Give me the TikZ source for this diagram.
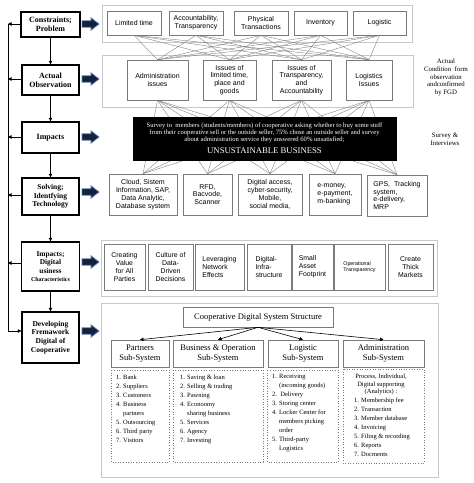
\documentclass[tikz,border=0pt]{standalone}
\usepackage{fontspec}
\setmainfont{Liberation Serif}
\newfontfamily\arialf{Liberation Sans}
\usetikzlibrary{arrows.meta,calc}
\definecolor{navyfill}{HTML}{14213D}
\definecolor{arrowedge}{HTML}{5B7DB1}
\definecolor{panelgray}{HTML}{C8C8C8}
\definecolor{boxgray}{HTML}{7A7A7A}
\definecolor{linegray}{HTML}{7A7A7A}
\newcommand{\fsz}[2]{\fontsize{#1}{#2}\selectfont}
\begin{document}
\begin{tikzpicture}[x=1pt,y=-1pt,
  panel/.style={draw=panelgray, line width=0.6pt, fill=white},
  rbox/.style={draw=boxgray, line width=0.6pt, fill=white, inner sep=1pt, align=center, font=\arialf\fsz{7}{7.8}},
  lbox/.style={draw=black, line width=1.4pt, fill=white, inner sep=1pt, align=center, font=\bfseries\fsz{8}{9.3}},
  hbox/.style={draw=boxgray, line width=0.6pt, fill=white, inner sep=1pt, align=center, font=\fsz{8.5}{10}},
  lstbox/.style={draw=boxgray, dotted, line width=0.6pt},
  lsttext/.style={inner sep=0pt, align=left, font=\fsz{6.5}{9}},
  note/.style={inner sep=0pt, align=center, font=\fsz{6.8}{7.8}},
  cross/.style={draw=linegray, line width=0.35pt},
  fb/.style={draw=black, line width=0.6pt, -{Triangle[length=3.5pt,width=3.5pt]}},
  bigarrow/.pic={\filldraw[fill=navyfill, draw=arrowedge, line width=0.7pt]
     (-8.5,-3.2) -- (0.5,-3.2) -- (0.5,-6.2) -- (8.5,0) -- (0.5,6.2) -- (0.5,3.2) -- (-8.5,3.2) -- cycle;}
]
\useasboundingbox (0,0) rectangle (474,483);
\fill[white] (0,0) rectangle (474,483);

% panels
\draw[panel] (102,5) rectangle (412,42);
\draw[panel] (102,55) rectangle (413,107);
\draw[panel] (101,240) rectangle (437,296);
\draw[panel] (101,303) rectangle (438,477);

% left column
\node[lbox, minimum width=59, minimum height=25] (L1) at (50.5,24.5) {Constraints;\\Problem};
\node[lbox, minimum width=57, minimum height=30] (L2) at (50.5,80) {Actual\\Observation};
\node[lbox, minimum width=57, minimum height=31] (L3) at (50.5,137.5) {Impacts};
\node[lbox, minimum width=57, minimum height=37, font=\bfseries\fsz{7.5}{8.3}] (L4) at (50.5,196.5) {Solving;\\Identfying\\Technology};
\node[lbox, minimum width=58, minimum height=49, font=\bfseries\fsz{7.4}{8.3}] (L5) at (50.5,266.5) {Impacts;\\Digital\\usiness\\{\fsz{6}{7}Characteristics}};
\node[lbox, minimum width=57, minimum height=51, font=\bfseries\fsz{7.5}{8.7}] (L6) at (50.5,337.5) {Developing\\Fremawork\\Digital of\\Cooperative};

\draw[fb] (L1.south) -- (L1.south |- L2.north);
\draw[fb] (L2.south) -- (L2.south |- L3.north);
\draw[fb] (L3.south) -- (L3.south |- L4.north);
\draw[fb] (L4.south) -- (L4.south |- L5.north);
\draw[fb] (L5.south) -- (L5.south |- L6.north);

% feedback line
\coordinate (f1) at (8,24);
\coordinate (f2) at (8,79);
\coordinate (f3) at (8,137);
\coordinate (f4) at (8,195);
\coordinate (f5) at (8,263);
\coordinate (f6) at (8,331);
\draw[line width=0.6pt] (f1) -- (f6);
\draw[fb] (f1 -| L1.west) -- (f1);
\draw[fb] (f2 -| L2.west) -- (f2);
\draw[fb] (f3 -| L3.west) -- (f3);
\draw[fb] (f4 -| L4.west) -- (f4);
\draw[fb] (f5 -| L5.west) -- (f5);
\draw[fb] (f6) -- (f6 -| L6.west);

% big arrows
\pic at (90.5,24) {bigarrow};
\pic at (90.5,79) {bigarrow};
\pic at (90.5,137) {bigarrow};
\pic at (90.5,192) {bigarrow};
\pic at (90.5,262) {bigarrow};
\pic at (90.5,331) {bigarrow};

% row 1
\node[rbox, minimum width=54, minimum height=24] (c1) at (134,23) {Limited time};
\node[rbox, minimum width=54, minimum height=24] (c2) at (196,23) {Accountability,\\Transparency};
\node[rbox, minimum width=54, minimum height=24] (c3) at (261,23) {Physical\\Transactions};
\node[rbox, minimum width=53, minimum height=24] (c4) at (320.5,23) {Inventory};
\node[rbox, minimum width=53, minimum height=24] (c5) at (379.5,23) {Logistic};

% row 2
\node[rbox, minimum width=61, minimum height=40] (o1) at (157.5,80) {Administration\\issues};
\node[rbox, minimum width=53, minimum height=40] (o2) at (229.5,80) {Issues of\\limited time,\\place and\\goods};
\node[rbox, minimum width=59, minimum height=40] (o3) at (301.5,80) {Issues of\\Transparency,\\and\\Accountability};
\node[rbox, minimum width=46, minimum height=40] (o4) at (369,80) {Logistics\\Issues};

% row 4
\node[rbox, minimum width=68, minimum height=41] (s1) at (143,194.5) {Cloud, Sistem\\Information, SAP,\\Data Analytic,\\Database system};
\node[rbox, minimum width=49, minimum height=41] (s2) at (207.5,194.5) {RFD,\\Bacvode,\\Scanner};
\node[rbox, minimum width=64, minimum height=41] (s3) at (270,194.5) {Digital access,\\cyber-security,\\Mobile,\\social media,};
\node[rbox, minimum width=52, minimum height=41, align=left] (s4) at (335,194.5) {e-money,\\e-payment,\\m-banking};
\node[rbox, minimum width=60, minimum height=41, align=left] (s5) at (397,195.5) {GPS,\ \ Tracking\\system,\\e-delivery,\\MRP};

% cross lines row1 -> row2
\foreach \a in {c1,c2,c3,c4,c5}{
  \foreach \b in {o1,o2,o3,o4}{
    \draw[cross] (\a.south) -- (\b.north);
  }
}
% cross lines row2 -> row4 (behind black box)
\foreach \a in {o1,o2,o3,o4}{
  \foreach \b in {s1,s2,s3,s4,s5}{
    \draw[cross] (\a.south) -- (\b.north);
  }
}

% black box
\node[draw=black, fill=black, minimum width=263, minimum height=43, inner sep=0pt] (bb) at (264.5,138.5) {};
\node[text=white, inner sep=0pt, align=center, font=\fsz{6.6}{7}] (bbt) at (264.5,133) {Survey to\ \ members (students/members) of cooperative asking whether to buy some stuff\\from their cooperative sell or the outside seller, 75\% chose an outside seller and survey\\about administration service they answered 60\% unsatisfied;};
\node[text=white, inner sep=0pt, font=\fsz{8.7}{9}] (bbu) at (264.5,151) {UNSUSTAINABLE BUSINESS};

% notes
\node[note] (n1) at (446,77.5) {Actual\\Condition\ \ form\\observation\\andconfirmed\\by FGD};
\node[note] (n2) at (445,139.5) {Survey \&\\Interviews};

% row 5
\node[rbox, minimum width=41, minimum height=46, font=\arialf\fsz{6.9}{8}] (d1) at (124.5,267) {Creating\\Value\\for All\\Parties};
\node[rbox, minimum width=45, minimum height=46, font=\arialf\fsz{6.9}{8}] (d2) at (170.5,267) {Culture of\\Data-\\Driven\\Decisions};
\node[rbox, minimum width=49, minimum height=46, font=\arialf\fsz{6.9}{8}, align=left] (d3) at (219.5,267) {Leveraging\\Network\\Effects};
\node[rbox, minimum width=44, minimum height=46, font=\arialf\fsz{6.9}{8}, align=left] (d4) at (269,267) {Digital-\\Infra-\\structure};
\node[rbox, minimum width=41, minimum height=46, font=\arialf\fsz{6.9}{8}, align=left] (d5) at (312.5,267) {Small\\Asset\\Footprint};
\node[rbox, minimum width=51, minimum height=46, font=\arialf\fsz{5.3}{6.5}, align=left] (d6) at (359.5,267) {Operational\\Transparency};
\node[rbox, minimum width=45, minimum height=46, font=\arialf\fsz{6.9}{8}] (d7) at (410.5,267) {Create\\Thick\\Markets};

% panel 6
\node[hbox, minimum width=150, minimum height=20] (coop) at (258,317) {Cooperative Digital System Structure};
\node[hbox, minimum width=58, minimum height=27] (h1) at (140,353.5) {Partners\\Sub-System};
\node[hbox, minimum width=90, minimum height=27] (h2) at (218,353.5) {Business \& Operation\\Sub-System};
\node[hbox, minimum width=70, minimum height=27] (h3) at (303,353.5) {Logistic\\Sub-System};
\node[hbox, minimum width=81, minimum height=27] (h4) at (383.5,353.5) {Administration\\Sub-System};
\draw[fb] (coop.south) -- (h1.north);
\draw[fb] (coop.south) -- (h2.north);
\draw[fb] (coop.south) -- (h3.north);
\draw[fb] (coop.south) -- (h4.north);

\draw[lstbox] (111,370) rectangle (169,462);
\draw[lstbox] (173,370) rectangle (263,462);
\draw[lstbox] (267,370) rectangle (338,462);
\draw[lstbox] (343,369) rectangle (424,463);

\node[lsttext, anchor=north west] (t1) at (116,374.5) {1. Bank\\2. Suppliers\\3. Customers\\4. Business\\\phantom{4. }partners\\5. Outsourcing\\6. Third party\\7. Visitors};
\node[lsttext, anchor=north west] (t2) at (180,374.5) {1. Saving \& loan\\2. Selling \& trading\\3. Pawning\\4. Econoomy\\\phantom{4. }sharing business\\5. Services\\6. Agency\\7. Investing};
\node[lsttext, anchor=north west] (t3) at (272,373.5) {1. Receiving\\\phantom{1. }(incoming goods)\\2.\ \ Delivery\\3. Storing center\\4. Locker Center for\\\phantom{4. }members picking\\\phantom{4. }order\\5. Third-party\\\phantom{5. }Logistics};
\node[lsttext, anchor=north, align=center, font=\fsz{6.5}{7.8}] (t4h) at (381,373.5) {Process, Individual,\\Digital supporting\\(Analytics) :};
\node[lsttext, anchor=north west] (t4) at (354,397.5) {1. Membership fee\\2. Transaction\\3. Member database\\4. Invoicing\\5. Filing \& recording\\6. Reports\\7. Docments};
\end{tikzpicture}
\end{document}
